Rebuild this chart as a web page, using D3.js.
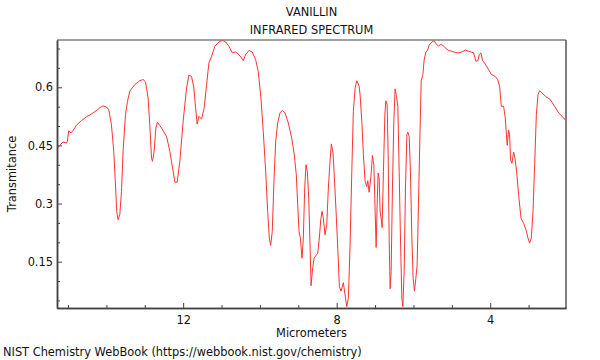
<!doctype html>
<html lang="en">
<head>
<meta charset="utf-8">
<title>Vanillin IR</title>
<script src="https://d3js.org/d3.v7.min.js"></script>
<style>
  body { margin: 0; background: #fff; }
  text { font-family: "DejaVu Sans", sans-serif; fill: #111; }
</style>
</head>
<body>
<div id="chart"></div>
<script>
// wavelength in micrometers (left to right)
var micrometers = [
  15.28, 15.217, 15.131, 15.042, 15.016, 14.982, 14.93, 14.87, 14.781, 14.651,
  14.52, 14.39, 14.259, 14.173, 14.087, 13.998, 13.938, 13.868, 13.808, 13.763,
  13.73, 13.696, 13.651, 13.607, 13.565, 13.503, 13.45, 13.39, 13.26, 13.13,
  13.043, 12.981, 12.913, 12.869, 12.824, 12.798, 12.756, 12.712, 12.668, 12.608,
  12.563, 12.433, 12.347, 12.261, 12.216, 12.156, 12.086, 12.0, 11.911, 11.851,
  11.781, 11.721, 11.676, 11.635, 11.59, 11.52, 11.452, 11.389, 11.329, 11.259,
  11.173, 11.068, 10.972, 10.894, 10.808, 10.721, 10.633, 10.565, 10.494, 10.434,
  10.372, 10.286, 10.2, 10.111, 10.043, 9.973, 9.913, 9.85, 9.798, 9.756,
  9.72, 9.678, 9.634, 9.589, 9.537, 9.477, 9.417, 9.346, 9.26, 9.172,
  9.104, 9.052, 9.015, 8.981, 8.947, 8.903, 8.869, 8.833, 8.799, 8.765,
  8.728, 8.694, 8.668, 8.634, 8.59, 8.538, 8.493, 8.452, 8.415, 8.381,
  8.347, 8.303, 8.259, 8.217, 8.173, 8.139, 8.094, 8.06, 8.016, 7.972,
  7.93, 7.886, 7.826, 7.781, 7.737, 7.695, 7.651, 7.606, 7.565, 7.52,
  7.476, 7.416, 7.39, 7.345, 7.304, 7.259, 7.215, 7.189, 7.155, 7.111,
  7.069, 7.032, 6.998, 6.972, 6.946, 6.92, 6.894, 6.868, 6.842, 6.816,
  6.782, 6.745, 6.719, 6.685, 6.659, 6.633, 6.607, 6.581, 6.547, 6.511,
  6.477, 6.443, 6.406, 6.372, 6.338, 6.302, 6.276, 6.242, 6.208, 6.171,
  6.145, 6.111, 6.078, 6.041, 6.007, 5.973, 5.937, 5.903, 5.869, 5.832,
  5.798, 5.754, 5.72, 5.676, 5.634, 5.59, 5.519, 5.459, 5.407, 5.347,
  5.303, 5.243, 5.172, 5.086, 4.997, 4.911, 4.825, 4.736, 4.65, 4.564,
  4.434, 4.371, 4.319, 4.285, 4.241, 4.199, 4.129, 4.043, 3.972, 3.868,
  3.807, 3.755, 3.711, 3.651, 3.607, 3.573, 3.555, 3.521, 3.495, 3.469,
  3.432, 3.39, 3.354, 3.312, 3.26, 3.197, 3.129, 3.067, 3.015, 2.973,
  2.929, 2.884, 2.842, 2.798, 2.754, 2.712, 2.65, 2.563, 2.433, 2.321,
  2.216, 2.128, 2.024
];

var transmittance = [
  0.442, 0.45, 0.459, 0.456, 0.461, 0.488, 0.482, 0.488, 0.502, 0.514,
  0.524, 0.531, 0.54, 0.547, 0.552, 0.549, 0.542, 0.503, 0.435, 0.348,
  0.28, 0.258, 0.271, 0.331, 0.435, 0.529, 0.564, 0.59, 0.607, 0.617,
  0.62, 0.614, 0.572, 0.503, 0.417, 0.409, 0.435, 0.495, 0.51, 0.501,
  0.495, 0.473, 0.435, 0.383, 0.355, 0.355, 0.409, 0.512, 0.598, 0.631,
  0.628, 0.598, 0.547, 0.505, 0.525, 0.518, 0.547, 0.607, 0.663, 0.68,
  0.706, 0.717, 0.721, 0.717, 0.706, 0.689, 0.691, 0.686, 0.678, 0.669,
  0.684, 0.695, 0.691, 0.671, 0.64, 0.572, 0.486, 0.383, 0.28, 0.211,
  0.192, 0.228, 0.357, 0.461, 0.508, 0.534, 0.54, 0.534, 0.508, 0.469,
  0.426, 0.374, 0.297, 0.228, 0.211, 0.159, 0.211, 0.34, 0.4, 0.383,
  0.314, 0.193, 0.088, 0.125, 0.159, 0.166, 0.172, 0.211, 0.258, 0.28,
  0.262, 0.219, 0.245, 0.34, 0.409, 0.454, 0.43, 0.366, 0.28, 0.185,
  0.086, 0.074, 0.096, 0.064, 0.034, 0.056, 0.193, 0.383, 0.538, 0.598,
  0.617, 0.603, 0.581, 0.512, 0.426, 0.357, 0.344, 0.359, 0.329, 0.366,
  0.424, 0.4, 0.28, 0.187, 0.297, 0.379, 0.366, 0.28, 0.262, 0.238,
  0.383, 0.529, 0.565, 0.555, 0.426, 0.211, 0.08, 0.125, 0.34, 0.512,
  0.596, 0.577, 0.551, 0.383, 0.211, 0.056, 0.034, 0.125, 0.34, 0.478,
  0.484, 0.473, 0.383, 0.211, 0.107, 0.074, 0.107, 0.142, 0.297, 0.469,
  0.616, 0.633, 0.671, 0.691, 0.695, 0.709, 0.717, 0.72, 0.712, 0.706,
  0.71, 0.709, 0.702, 0.695, 0.693, 0.69, 0.689, 0.691, 0.696, 0.693,
  0.689, 0.667, 0.669, 0.684, 0.689, 0.669, 0.66, 0.646, 0.633, 0.628,
  0.62, 0.603, 0.551, 0.551, 0.521, 0.469, 0.45, 0.49, 0.478, 0.413,
  0.404, 0.433, 0.417, 0.383, 0.323, 0.262, 0.249, 0.232, 0.211, 0.198,
  0.211, 0.28, 0.4, 0.529, 0.581, 0.591, 0.585, 0.577, 0.568, 0.551,
  0.534, 0.525, 0.514
];

var majorX = [12, 8, 4];
var minorX = [15, 14, 13, 11, 10, 9, 7, 6, 5, 3];
var majorY = [0.15, 0.3, 0.45, 0.6];
var minorY = [0.05, 0.1, 0.2, 0.25, 0.35, 0.4, 0.5, 0.55, 0.65, 0.7];

var width = 600, height = 360;
var margin = {top: 40, right: 34, bottom: 52, left: 57};
var w = width - margin.left - margin.right;
var h = height - margin.top - margin.bottom;
var fs = "11.4px";

var svg = d3.select("#chart").append("svg")
    .attr("width", width)
    .attr("height", height);

var g = svg.append("g")
    .attr("transform", "translate(" + margin.left + "," + margin.top + ")");

// micrometers run right to left
var x = d3.scaleLinear().domain([15.287, 2.025]).range([0, w]);
var y = d3.scaleLinear().domain([0.0305, 0.722]).range([h, 0]);

// frame: top light gray, right dark
g.append("line").attr("x1", 0).attr("x2", w).attr("y1", 0).attr("y2", 0)
    .attr("stroke", "#a0a0a0").attr("stroke-width", 2);
g.append("line").attr("x1", w).attr("x2", w).attr("y1", 0).attr("y2", h)
    .attr("stroke", "#555").attr("stroke-width", 1.5);

g.append("clipPath").attr("id", "clip")
    .append("rect").attr("width", w).attr("height", h);

var line = d3.line()
    .x(function (d, i) { return x(micrometers[i]); })
    .y(function (d) { return y(d); });

g.append("path")
    .datum(transmittance)
    .attr("clip-path", "url(#clip)")
    .attr("fill", "none")
    .attr("stroke", "#ff3333")
    .attr("stroke-width", 1)
    .attr("d", line);

// bottom axis, ticks pointing into the plot
g.append("g").attr("transform", "translate(0," + h + ")")
    .call(d3.axisBottom(x).tickValues(majorX).tickSizeInner(-5).tickSizeOuter(0).tickPadding(8));
g.append("g").attr("transform", "translate(0," + h + ")")
    .call(d3.axisBottom(x).tickValues(minorX).tickSizeInner(-3).tickSizeOuter(0).tickFormat(""));

g.append("g")
    .call(d3.axisLeft(y).tickValues(majorY).tickSizeInner(-5).tickSizeOuter(0).tickPadding(4)
        .tickFormat(function (d) { return d3.format("")(+d.toFixed(2)); }));
g.append("g")
    .call(d3.axisLeft(y).tickValues(minorY).tickSizeInner(-3).tickSizeOuter(0).tickFormat(""));

g.selectAll(".domain").attr("stroke", "#444").attr("stroke-width", 1.5);
g.selectAll(".tick line").attr("stroke", "#444");
g.selectAll(".tick text").style("font-family", "DejaVu Sans, sans-serif").style("font-size", fs).attr("fill", "#111");

// titles
svg.append("text").attr("x", margin.left + w / 2).attr("y", 16)
    .attr("text-anchor", "middle").style("font-size", fs).text("VANILLIN");
svg.append("text").attr("x", margin.left + w / 2).attr("y", 34)
    .attr("text-anchor", "middle").style("font-size", fs).text("INFRARED SPECTRUM");

svg.append("text").attr("x", margin.left + w / 2).attr("y", 337)
    .attr("text-anchor", "middle").style("font-size", fs).text("Micrometers");

svg.append("text")
    .attr("transform", "translate(16," + (margin.top + h / 2) + ") rotate(-90)")
    .attr("text-anchor", "middle").style("font-size", fs).text("Transmitance");

svg.append("text").attr("x", 3).attr("y", 356)
    .style("font-size", fs).text("NIST Chemistry WebBook (https://webbook.nist.gov/chemistry)");
</script>
</body>
</html>
